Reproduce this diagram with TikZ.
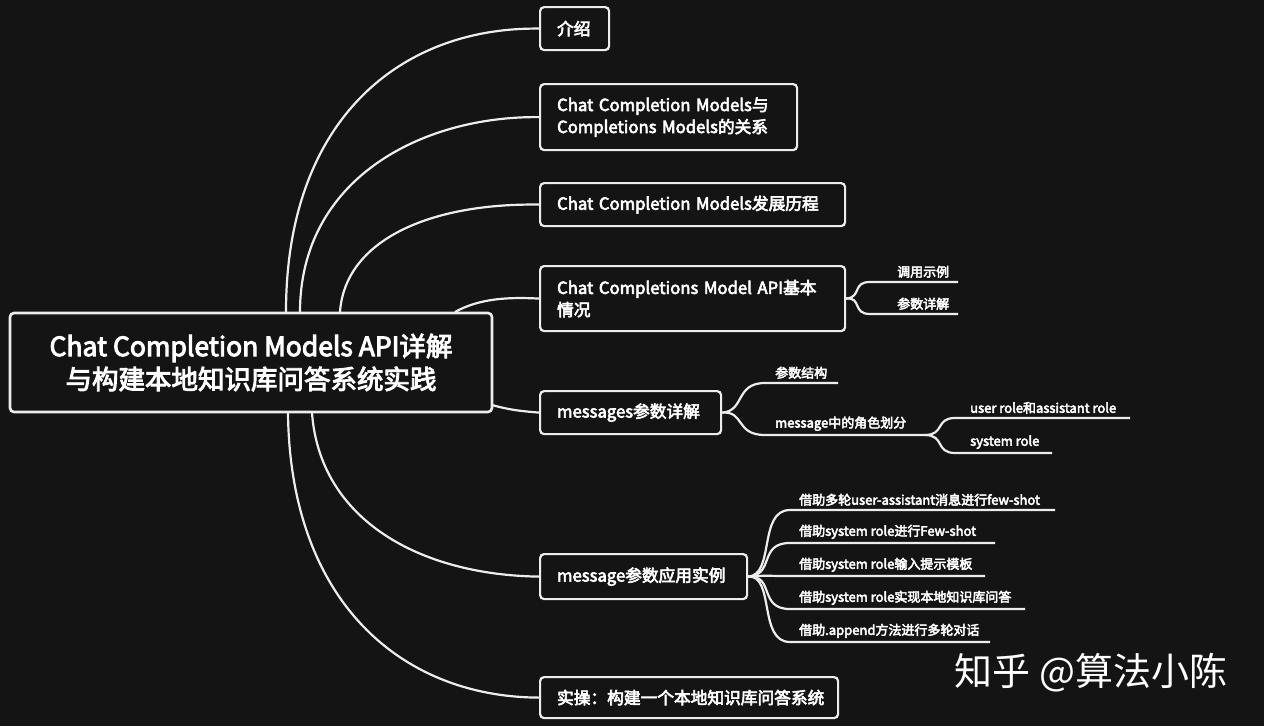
\documentclass[tikz,border=0pt]{standalone}
\usepackage{fontspec}
\setmainfont{Noto Sans CJK SC}[AutoFakeBold=3.5]
\definecolor{bg}{HTML}{141414}
\definecolor{ln}{HTML}{EDEDED}
\begin{document}
\begin{tikzpicture}[x=1pt,y=-1pt,
  box/.style={draw=ln,line width=2.2pt,rounded corners=4pt,fill=bg,text=white,font=\bfseries\fontsize{16.7}{22}\selectfont,align=left,inner xsep=17pt,inner ysep=0pt,anchor=north west},
  con/.style={ln,line width=2.2pt},
  lf/.style={text=white,font=\bfseries\fontsize{13}{15}\selectfont,anchor=south west,inner sep=2pt},
  ul/.style={ln,line width=1.8pt}]
\fill[bg] (0,0) rectangle (1264,726);
\useasboundingbox (0,0) rectangle (1264,726);
% root
\node[box,line width=2.6pt,minimum width=482pt,minimum height=99pt,align=center,anchor=center,inner xsep=0pt,font=\bfseries\fontsize{26.5}{33}\selectfont] (root) at (251,362.5) {Chat Completion Models API详解\\与构建本地知识库问答系统实践};
% boxes
\node[box,text width=35pt,minimum height=43pt] (b1) at (539,6) {介绍};
\node[box,text width=223pt,minimum height=66pt] (b2) at (539,83) {Chat Completion Models与\\Completions Models的关系};
\node[box,text width=271pt,minimum height=43pt] (b3) at (539,182) {Chat Completion Models发展历程};
\node[box,text width=271pt,minimum height=65pt] (b4) at (539,265) {Chat Completions Model API基本\\情况};
\node[box,text width=147pt,minimum height=43pt] (b5) at (539,390) {messages参数详解};
\node[box,text width=173pt,minimum height=45pt] (b6) at (539,553) {message参数应用实例};
\node[box,text width=264pt,minimum height=41pt] (b7) at (539,676) {实操：构建一个本地知识库问答系统};
% root connectors
\coordinate (s1) at (286,312); \coordinate (s2) at (300,312); \coordinate (s3) at (340,312);
\coordinate (s4) at (455,312); \coordinate (s5) at (492,405); \coordinate (s6) at (312,413); \coordinate (s7) at (288,413);
\draw[con] (s1) .. controls (286,120) and (400,27) .. (b1.west);
\draw[con] (s2) .. controls (300,180) and (420,116) .. (b2.west);
\draw[con] (s3) .. controls (345,240) and (430,203) .. (b3.west);
\draw[con] (s4) .. controls (480,298) and (510,297) .. (b4.west);
\draw[con] (s5) .. controls (510,410) and (520,411) .. (b5.west);
\draw[con] (s6) .. controls (320,520) and (420,575) .. (b6.west);
\draw[con] (s7) .. controls (290,600) and (400,697) .. (b7.west);
% b4 children
\coordinate (c41) at (870,282); \coordinate (c41e) at (958,282);
\coordinate (c42) at (870,314); \coordinate (c42e) at (958,314);
\draw[con] (b4.east) .. controls (862,297) and (852,282) .. (c41) -- (c41e);
\draw[con] (b4.east) .. controls (862,297) and (852,314) .. (c42) -- (c42e);
\node[lf] (l41) at (895,280) {调用示例};
\node[lf] (l42) at (895,312) {参数详解};
% b5 children
\coordinate (c51) at (765,383); \coordinate (c51e) at (838,383);
\coordinate (c52) at (765,435); \coordinate (c52e) at (925,435);
\draw[con] (b5.east) .. controls (745,411) and (735,383) .. (c51) -- (c51e);
\draw[con] (b5.east) .. controls (745,411) and (735,435) .. (c52) -- (c52e);
\node[lf] (l51) at (773,381) {参数结构};
\node[lf] (l52) at (773,433) {message中的角色划分};
\coordinate (c61) at (955,418); \coordinate (c61e) at (1130,418);
\coordinate (c62) at (955,453); \coordinate (c62e) at (1052,453);
\draw[con] (c52e) .. controls (945,435) and (935,418) .. (c61) -- (c61e);
\draw[con] (c52e) .. controls (945,435) and (935,453) .. (c62) -- (c62e);
\node[lf] (l61) at (968,416) {user role和assistant role};
\node[lf] (l62) at (968,451) {system role};
% b6 children
\foreach \i/\y/\e/\t in {1/510/1055/借助多轮user-assistant消息进行few-shot,2/543/995/借助system role进行Few-shot,3/576/985/借助system role输入提示模板,4/609/1025/借助system role实现本地知识库问答,5/642/990/借助.append方法进行多轮对话}{
  \coordinate (d\i) at (790,\y); \coordinate (d\i e) at (\e,\y);
  \draw[con] (b6.east) .. controls (775,575) and (758,\y) .. (d\i) -- (d\i e);
  \node[lf] (m\i) at (797,\y-2) {\t};
}
\node[text=white,font=\fontsize{38}{42}\selectfont,anchor=center] (wm) at (1091,673) {知乎 @算法小陈};
\end{tikzpicture}
\end{document}
